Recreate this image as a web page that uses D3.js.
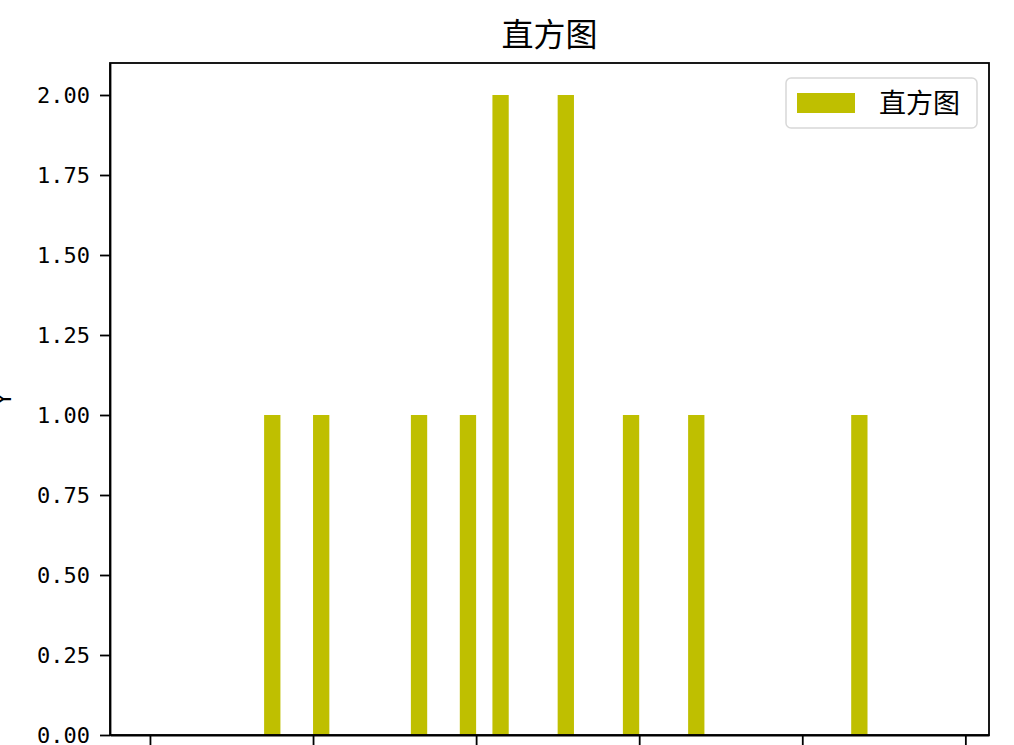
<!DOCTYPE html>
<html lang="zh">
<head>
    <meta charset="UTF-8">
    <title>直方图</title>
    <script src="https://d3js.org/d3.v7.min.js"></script>
    <style>
        body { margin: 0; background: #fff; overflow: hidden; }
        svg { display: block; }
        .axis path, .axis line { stroke: #000; stroke-width: 1.8; }
        .axis text { font-family: "DejaVu Sans Mono", monospace; font-size: 22px; fill: #000; }
    </style>
</head>
<body>
    <svg width="1014" height="745"></svg>
    <script>
        // raw samples fed to the histogram (one bin per integer, 0..49)
        var samples = [7.3, 10.5, 16.2, 19.6, 21.1, 21.8, 25.4, 25.7, 29.5, 33.2, 43.6];
        var binThresholds = d3.range(0, 50);
        var xTicks = [0, 10, 20, 30, 40, 50];
        var yTicks = [0, 0.25, 0.5, 0.75, 1.0, 1.25, 1.5, 1.75, 2.0];
        var titleText = "直方图";
        var legendLabel = "直方图";
        var yLabel = "Y";
        var barColor = "#bfbf00";

        function draw() {
            var svg = d3.select("svg");
            var m = {left: 110, right: 989, top: 63, bottom: 735};

            var bins = d3.bin()
                .domain([0, 49])
                .thresholds(binThresholds.slice(1, -1))(samples);

            // matplotlib style 5% margin on x
            var pad = (49 - 0) * 0.05;
            var x = d3.scaleLinear().domain([0 - pad, 49 + pad]).range([m.left, m.right]);
            var maxCount = d3.max(bins, d => d.length);
            var y = d3.scaleLinear().domain([0, maxCount * 1.05]).range([m.bottom, m.top]);

            // bars
            svg.append("g")
                .selectAll("rect")
                .data(bins.filter(d => d.length > 0))
                .enter()
                .append("rect")
                .attr("x", d => x(d.x0))
                .attr("y", d => y(d.length))
                .attr("width", d => x(d.x1) - x(d.x0))
                .attr("height", d => y(0) - y(d.length))
                .attr("fill", barColor);

            // axes
            svg.append("g")
                .attr("class", "axis")
                .attr("transform", "translate(0," + m.bottom + ")")
                .call(d3.axisBottom(x).tickValues(xTicks).tickFormat("").tickSize(10).tickSizeOuter(0));

            svg.append("g")
                .attr("class", "axis")
                .attr("transform", "translate(" + m.left + ",0)")
                .call(d3.axisLeft(y).tickValues(yTicks).tickFormat(d3.format(".2f")).tickSize(10).tickPadding(10).tickSizeOuter(0));

            // frame
            svg.append("rect")
                .attr("x", m.left)
                .attr("y", m.top)
                .attr("width", m.right - m.left)
                .attr("height", m.bottom - m.top)
                .attr("fill", "none")
                .attr("stroke", "#000")
                .attr("stroke-width", 1.8);

            // title
            svg.append("text")
                .attr("x", (m.left + m.right) / 2)
                .attr("y", 46)
                .attr("text-anchor", "middle")
                .style("font-family", "'Noto Sans CJK SC'")
                .style("font-size", "32px")
                .text(titleText);

            // y label
            svg.append("text")
                .attr("text-anchor", "middle")
                .attr("transform", "translate(11," + ((m.top + m.bottom) / 2) + ")rotate(-90)")
                .style("font-family", "'DejaVu Sans'")
                .style("font-size", "22px")
                .text(yLabel);

            // legend
            var legend = svg.append("g");
            legend.append("rect")
                .attr("x", 786).attr("y", 78)
                .attr("width", 191).attr("height", 50)
                .attr("rx", 5)
                .attr("fill", "#fff").attr("fill-opacity", 0.8)
                .attr("stroke", "#d8d8d8").attr("stroke-width", 1.5);
            legend.append("rect")
                .attr("x", 797).attr("y", 93)
                .attr("width", 58).attr("height", 20)
                .attr("fill", barColor);
            legend.append("text")
                .attr("x", 879).attr("y", 113)
                .style("font-family", "'Noto Sans CJK SC'")
                .style("font-size", "27px")
                .text(legendLabel);
        }
        draw();
    </script>
</body>
</html>
